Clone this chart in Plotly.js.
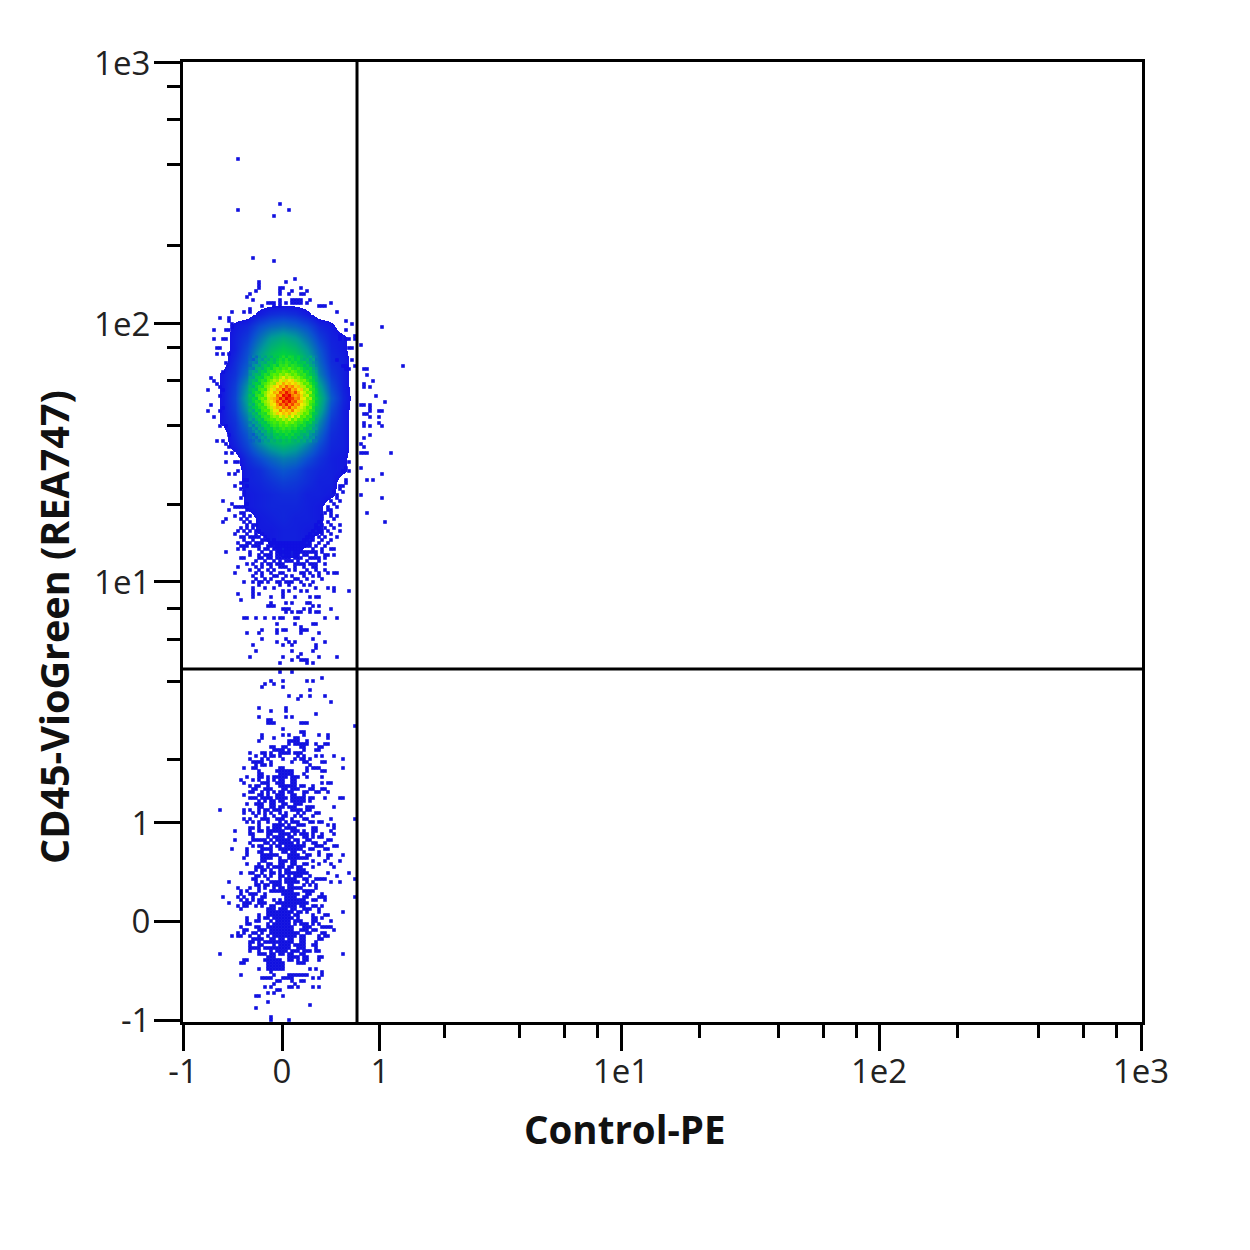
<!DOCTYPE html>
<html><head><meta charset="utf-8">
<script src="https://cdn.plot.ly/plotly-3.0.1.min.js"></script>
<style>html,body{margin:0;padding:0;background:#fff}</style></head>
<body><div id="plot" style="width:1250px;height:1250px"></div>
<script>
// Axis unit: instrument display channel. Tick tables map channels to labels.
const xTickChannels=[0.67,33.67,66.33,146.67,232.67,320];
const xTickLabels=['-1','0','1','1e1','1e2','1e3'];
const xMinorChannels=[87.67,112.67,127.67,138.67,172.67,199,214,225,258.67,285.67,300.67,311.67];
const yTickChannels=[1,34,66.67,147,233,320];
const yTickLabels=['-1','0','1','1e1','1e2','1e3'];
const yMinorChannels=[87.7,113.7,127.7,138.3,172.7,199.3,214.3,225,259,286,301,312];
const xGateChannel=58.67, yGateChannel=118;
const xTitle='Control-PE', yTitle='CD45-VioGreen (REA747)';

// Coarse density of the main population, top row first
const densityX=[10,14,18,22,26,30,34,38,42,46,50,54,58];
const densityY=[244.33,240.33,236.33,232.33,228.33,224.33,220.33,216.33,212.33,208.33,204.33,200.33,196.33,192.33,188.33,184.33,180.33,176.33,172.33,168.33,164.33,160.33,156.33,152.33];
const densityRows=[
[0,0,0,0,0,0,0,0,0,0,0,0,0],
[0,0,0,0,0,0,0,0,0,0,0,0,0],
[0,0,0,0,3,6,7,6,3,0,0,0,0],
[0,0,3,5,11,15,17,15,11,5,3,0,0],
[0,0,4,8,17,26,30,26,18,9,4,3,0],
[0,0,4,11,23,33,38,34,25,13,5,3,0],
[0,0,6,13,29,40,46,42,31,16,6,4,0],
[0,3,7,17,36,52,60,54,40,20,8,4,0],
[0,3,9,24,46,64,82,72,52,28,11,4,0],
[0,3,10,28,54,72,96,82,58,34,14,5,0],
[0,3,9,24,48,64,84,72,52,30,11,4,0],
[0,3,7,18,38,52,62,56,42,22,8,4,0],
[0,0,6,13,28,40,46,42,30,16,6,4,0],
[0,0,4,10,19,27,32,28,20,11,5,4,0],
[0,0,0,6,11,16,20,18,12,7,4,3,0],
[0,0,0,4,6,10,13,11,7,5,4,3,0],
[0,0,0,4,5,7,9,8,6,4,4,0,0],
[0,0,0,3,4,5,6,6,4,4,3,0,0],
[0,0,0,3,4,5,5,5,4,3,0,0,0],
[0,0,0,0,3,4,5,4,4,3,0,0,0],
[0,0,0,0,3,3,4,4,3,3,0,0,0],
[0,0,0,0,0,3,4,4,3,0,0,0,0],
[0,0,0,0,0,0,3,3,0,0,0,0,0],
[0,0,0,0,0,0,0,0,0,0,0,0,0]];

// Fine per-channel density of the bright core, top row first
const coreX=[23,24,25,26,27,28,29,30,31,32,33,34,35,36,37,38,39,40,41,42,43,44,45];
const coreY=[222,221,220,219,218,217,216,215,214,213,212,211,210,209,208,207,206,205,204,203,202,201,200,199,198,197,196,195,194];
const coreRows=[
[15,20,17,24,29,26,33,31,38,36,41,45,39,44,42,37,40,34,31,28,30,23,19],
[16,14,21,27,24,32,30,37,34,40,44,41,46,40,43,38,41,33,30,32,25,27,18],
[18,21,19,28,32,29,36,39,35,42,46,43,48,45,41,44,39,36,38,31,28,23,20],
[17,23,27,25,33,37,34,41,45,40,49,47,51,44,48,45,42,40,34,37,30,27,21],
[20,19,29,33,30,38,43,40,48,51,47,53,50,56,49,46,50,44,39,35,38,29,24],
[24,28,26,34,39,36,45,49,46,54,52,58,55,51,57,53,47,49,41,43,36,32,26],
[23,30,34,32,41,46,43,52,56,53,60,57,63,59,54,58,51,47,50,42,38,34,29],
[27,26,36,40,38,48,53,50,59,57,63,68,61,65,62,57,60,53,48,44,47,36,32],
[29,33,31,42,47,44,55,59,64,61,72,66,76,70,74,64,61,57,59,49,43,40,31],
[28,36,40,37,49,53,58,63,60,74,68,82,73,78,71,76,67,62,55,58,48,41,37],
[32,30,41,47,44,57,61,66,75,70,84,77,90,81,86,74,78,64,63,53,56,44,35],
[34,38,36,49,53,50,63,72,67,82,78,94,86,92,79,85,72,76,61,64,51,47,39],
[31,40,45,42,55,60,66,70,81,76,92,87,98,90,84,93,80,70,66,58,61,45,41],
[36,33,47,51,49,61,68,74,72,88,83,99,94,100,88,82,86,74,63,67,53,49,38],
[34,41,39,53,58,55,66,76,80,86,97,90,100,96,94,86,88,72,69,59,63,47,42],
[32,39,46,43,56,61,65,72,78,90,84,98,92,99,89,92,78,76,65,61,55,50,37],
[35,31,43,49,47,59,63,73,70,84,94,88,97,86,93,82,86,70,67,62,52,46,40],
[30,37,40,46,52,50,61,66,74,80,76,90,84,94,80,85,74,68,63,55,58,43,35],
[32,28,41,38,50,55,53,63,72,68,86,74,82,76,88,72,75,64,61,57,49,45,33],
[27,34,31,43,47,45,57,61,66,76,70,78,73,80,68,74,64,62,55,58,46,39,36],
[25,29,36,34,45,49,47,58,62,59,68,64,74,62,70,60,66,54,57,48,50,37,31],
[26,23,32,38,35,47,50,55,53,60,57,64,59,66,56,62,53,55,47,50,41,39,28],
[21,27,25,33,39,36,45,49,53,50,56,53,60,55,58,52,48,50,44,40,42,32,29],
[23,19,29,27,35,40,38,46,50,47,54,50,55,51,48,52,45,42,45,37,34,31,24],
[18,23,21,30,28,36,40,37,45,43,47,51,46,49,45,47,40,43,37,34,36,27,25],
[17,20,25,22,31,29,37,34,41,45,42,46,43,45,40,42,39,35,37,31,28,29,21],
[16,14,21,24,22,30,33,31,38,36,41,39,44,40,43,36,38,32,30,33,25,22,20],
[15,18,16,22,26,24,31,29,35,39,36,40,37,41,35,38,32,34,27,29,23,24,17],
[13,15,19,17,23,27,25,32,30,34,32,36,34,37,33,31,34,28,30,24,26,19,18]];

// Individually visible events: [y channel, [x channels]]
const eventRows=[
[1,[36,30]],[2,[30]],[5,[25]],[6,[43]],[7,[29]],[9,[25,26,34]],[10,[29,31]],[11,[32,33]],
[12,[28,30,36,37,39,44,46]],[13,[31,38]],[14,[32,33,37,40,41]],[15,[27,28,29,30,34,35,36,37,44,46]],
[16,[20,31,36,37,38,39,40,41,42,47]],[17,[30,47]],[18,[26,29,30,31,32,33,34,43,45]],[19,[29,30,31,32,33,34]],
[20,[20,21,29,30,31,32,33,34,39,40,41]],[21,[21,22,28,29,30,31,32,33,36,37,39,41,42,46]],
[22,[29,30,31,36,37,38,39,41,42,46,47]],[23,[13,26,27,28,30,31,33,34,36,37,40,41,54]],
[24,[23,26,30,32,33,34,35,37,38,39,41,42,43,45,46]],[25,[23,24,25,26,28,29,30,31,32,33,34,35,36,39,40,41,45]],
[26,[23,26,27,31,33,34,35,36,38,39,40,41,44,45]],[27,[23,24,26,28,29,30,31,32,33,34,35,36,37,40,41,45]],
[28,[24,25,26,27,30,31,33,34,36,37,40,41,46,47]],[29,[17,19,20,23,26,29,31,32,33,34,35,36,37,38,40,41,46,48,49]],
[30,[19,21,24,25,27,30,31,32,33,34,35,36,37,38,39,42,43,47,48]],[31,[21,22,26,27,28,30,31,32,33,34,35,36,37,40,41,42,44,45,51]],
[32,[20,25,26,29,30,31,32,33,34,35,36,37,41,42,43,47,48,49,50]],[33,[22,23,29,31,32,33,34,35,36,38,40,41,42,44,46]],
[34,[22,25,26,30,32,33,34,35,36,38,39,40,44,45,50]],[35,[22,26,28,29,31,32,33,34,35,36,37,39,44,45,47]],
[36,[26,29,30,31,32,33,34,35,36,38,39,44,48,49]],[37,[29,30,31,32,33,34,35,36,37,39,40,42,46,54]],
[38,[20,29,30,31,33,34,35,37,38,41,42,43,46]],[39,[19,21,22,25,27,30,31,34,35,36,37,38,40,41,44,45,47]],
[40,[16,21,22,23,26,27,28,32,33,34,35,36,37,38,39,40,41,42]],[41,[20,22,24,26,27,31,33,35,36,37,38,39,40,41,44,45,48]],
[42,[14,19,21,24,27,28,35,36,37,38,41,42,46,47,48,58]],[43,[20,23,24,25,28,34,35,36,37,38,39,42,43,47]],
[44,[20,22,26,30,31,32,33,34,35,36,37,41,42,43,44]],[45,[19,23,26,28,31,33,34,36,37,38,39,40,45]],
[46,[25,26,28,29,31,32,33,36,37,41,43,45]],[47,[16,25,27,30,31,32,33,35,36,37,38,39,42,44,50,53]],
[48,[24,25,29,33,35,36,37,38,41,42,45,46,47,48,58]],[49,[25,26,28,30,33,34,36,38,39,40,43,52]],
[50,[20,23,24,27,30,31,33,35,36,37,38,39,40,41,42,49,56]],[51,[25,27,28,30,33,35,36,39,40,41]],
[52,[25,26,27,29,31,32,33,34,36,37,39,40,44,51]],[53,[22,26,29,30,33,34,37,38,41,42,46,50]],[54,[27,28,33,34,35,37,38,44,48,53]],
[55,[21,27,28,29,30,33,36,37,38,39,40,41,42,49]],[56,[22,27,28,29,30,31,32,36,37,38,39,42,43,46,49,50,54]],
[57,[22,26,27,30,34,35,37,38,41,46]],[58,[17,22,27,28,29,30,33,34,35,36,37,38,39,40,43,44,48,49]],
[59,[24,26,27,30,32,33,35,36,37,38,39,40,41,45,46,47,51,52]],[60,[23,28,29,31,33,34,35,36,37,39,41,44,45,48]],
[61,[18,24,25,26,27,28,30,32,33,34,35,36,38,39,42,43,49,50]],[62,[24,29,31,32,33,34,36,37,41,42,44,46,47]],
[63,[23,24,29,30,33,34,35,36,38,40,41,42,44,47,51]],[64,[18,23,26,27,29,30,31,32,33,34,37,38,39,41,44,45,50]],
[65,[23,24,26,29,31,32,33,35,36,37,38,44,45,51]],[66,[26,31,32,33,34,36,39,40,41,49,51]],
[67,[22,24,26,29,33,35,37,38,39,43,44,46,47]],[68,[21,23,27,28,29,32,33,34,37,41,42,50,58]],[69,[25,28,31,34,35,38,40,44]],
[70,[21,24,26,28,30,33,35,39,41,45,46]],[71,[13,21,23,26,28,29,31,32,33,37,38,39,40,42,43]],
[72,[26,27,30,31,33,34,36,37,38,42,43,44,51]],[73,[22,25,26,27,30,31,34,35,38,39,40]],
[74,[26,28,30,31,33,34,37,38,39,40,41,43]],[75,[23,24,25,27,28,29,30,32,33,34,35,37,38,39,40,41,43,44,48,53,54]],
[76,[21,26,27,29,32,33,34,37,38,41]],[77,[23,24,27,29,31,33,34,36,37,41,42,45,46,49]],
[78,[24,25,28,29,30,34,35,37,38,39,43,44,47,48]],[79,[23,25,26,29,33,34,35,36,37,38,40,41,44]],
[80,[21,27,28,29,32,33,34,37,38,47,49,50]],[81,[20,24,26,29,31,33,34,37,38]],
[82,[22,26,27,29,31,32,33,34,35,37,38,39,42,47]],[83,[26,27,33,34,35,36,37,41]],
[84,[26,32,33,34,35,36,37,42,47,48]],[85,[21,24,25,33,34,42,44,45,46,54]],[86,[25,27,28,30,43]],
[87,[24,25,26,27,30,37,41,42,47,48]],[88,[23,27,29,34,38,40,41,43,54]],[89,[25,28,30,31,33,39,41,45,47,51]],
[90,[23,27,28,30,33,34,35,36,38,39,40]],[91,[31,32,33,34,36,41,45,46]],[92,[30,31,34,35,40,41,46,47]],
[93,[36,38,39,40,41,42,45,48,49]],[94,[26,36,37,38,39,42]],[95,[27,31,38,39,49]],[96,[27,34,36,41,46,49]],
[97,[40,41]],[98,[34]],[99,[58]],[100,[29,30,31,40,41,42]],[101,[29,30]],[102,[26,35,37]],[103,[45]],
[104,[30,35]],[105,[26,35]],[107,[50]],[108,[39]],[109,[36,40,43,48]],[111,[43]],[112,[27,34]],
[113,[28,31]],[114,[30,34,42,44]],[115,[47]],[117,[33,37]],
[120,[33,42,44]],[121,[37,40,41,42]],[122,[23,34,39,46,52]],[123,[40]],[124,[25,37,44]],[125,[45]],
[126,[24,34,37,45]],[127,[32,36,38,48]],[128,[27,35,44]],[130,[22,26,32,40,46]],[131,[27,32,34,35,40,41,42]],
[132,[40]],[133,[32,38,44,45]],[135,[21,22,25,28,31,33,34,38,39,48,52]],[137,[35,37,39,40,43,45,46]],
[138,[34,35,36,41,43,50]],[139,[29,30,31,44,46]],[140,[30,35,37,42,43]],[141,[20]],[142,[24,30,34,38,43,45,46]],
[143,[19,24,26,34]],[144,[24,34,36,40,42,51,56]],[145,[24,28,31,38,45,49,51]],[146,[26,33,36,41,43]],
[147,[21,24,26,27,29,32,33,35,36,37,40,44]],[148,[25,28,30,34,38,39,42,47]],[149,[24,27,31,32,35,37,41,44,46]],
[150,[18,25,27,30,33,34,40,41,43,46,49,51,52]],[151,[23,26,29,31,36,38,42,45,48]],
[152,[19,25,27,30,33,34,35,38,41,44,45]],[153,[22,24,27,29,30,32,33,34,38,39,40,41,43,44,45,48]],
[154,[25,28,31,33,35,36,37,39,42,46]],[155,[20,21,26,27,29,30,32,33,34,35,36,38,39,40,43,44,45,46,48]],
[156,[23,26,28,29,30,32,33,35,36,38,39,41,42,45,48,49,51]],
[157,[15,23,27,30,32,33,34,35,36,38,39,40,41,42,43,44,45,47]],[158,[19,21,26,28,29,31,32,33,35,36,37,38,39,40,44,47,50,51]],
[159,[20,21,22,24,25,26,29,30,32,33,34,35,36,37,38,39,40,41,42,43,45,48]],[160,[19,22,23,25,26,27,30,31,32,33,34,35,36,37,38,39,40,41,43,46,49]],
[161,[21,24,27,28,29,31,41,42,44,47,50]],[162,[20,21,23,24,25,26,28,42,43,44,46,48,52]],[163,[18,22,25,27,43,45,47,50]],
[164,[19,21,23,25,26,44,46,47,49,53]],[165,[20,22,24,45,46,48,51]],[166,[22,24,25,45,47,50,53]],
[167,[14,68,21,23,46,49]],[168,[15,20,22,47,51]],[169,[18,21,23,47,50,52]],[170,[20,21,62,48,50]],[171,[16,22,50,49]],[172,[18,19,20,21,49,52]],[173,[17,22,51]],
[174,[14,50,53]],[175,[67,20,52]],[176,[21,60,52]],[177,[21,51,54]],[178,[20,53]],[179,[18,22,53,54]],[180,[20,55]],[181,[21,22,62,64,55]],
[183,[16,18,67]],[184,[19,54,56]],[185,[60,55]],[187,[15,18,19,56]],[190,[15,17,60,61,62,70]],[192,[16,61]],
[193,[15,60]],[194,[12,14]],[195,[61]],[196,[16,63]],[199,[13,15,61,63,67]],[200,[61,66]],[202,[11,63,66]],
[203,[61,62]],[204,[9,13,63,66,67]],[205,[14,63]],[206,[10,60,61,63]],[207,[68]],[209,[13,65]],
[211,[9,14]],[212,[13,61,63]],[213,[12,61]],[214,[11,64]],[215,[10]],[216,[62]],[217,[14]],[218,[55,56,61,62]],
[219,[54,55,58,74]],[220,[15]],[221,[52,57]],[223,[12,14,16]],[225,[12,13,56,57]],[226,[60]],
[228,[11,14,15,53,55,56,58]],[229,[53,58]],[231,[11,15,16,55]],[232,[17,67]],[233,[17,57]],[234,[16,55]],
[235,[13,16]],[237,[17,21,23,52]],[238,[23]],[239,[27,31,33,46,47,48]],[240,[29,30,31,33,35,37,38,39,40,42,50]],
[241,[24,33,37,38,39,40,43]],[242,[22]],[243,[23,33,36,40,41]],[244,[25,33,37,42]],[245,[26,33,34,40]],
[246,[26]],[247,[26,35]],[248,[38]],[254,[31]],[255,[24]],[269,[31]],[271,[19,36]],[273,[33]],[288,[19]]];

const densityZ=densityRows.slice().reverse();
const densityYAsc=densityY.slice().reverse();
const coreZ=coreRows.slice().reverse();
const coreYAsc=coreY.slice().reverse();
const evX=[],evY=[];
eventRows.forEach(r=>r[1].forEach(x=>{evX.push(x);evY.push(r[0]);}));

const pseudoColor=[[0,'#ffffff'],[0.02,'#ffffff'],[0.0201,'#1414e0'],[0.12,'#0a50d0'],[0.25,'#009a96'],[0.40,'#00d040'],[0.55,'#50f000'],[0.70,'#f0f000'],[0.85,'#ff9000'],[1,'#e80000']];
const axisBase={linecolor:'#000',linewidth:3,mirror:true,showgrid:false,zeroline:false,
 ticks:'outside',tickmode:'array',ticklen:26,tickwidth:3,tickcolor:'#000',
 tickfont:{family:'Open Sans',size:33,color:'#222'}};
const minorBase={tickmode:'array',ticks:'outside',ticklen:13,tickwidth:3,tickcolor:'#000'};
const data=[
 {type:'heatmap',x:densityX,y:densityYAsc,z:densityZ,zsmooth:'best',zmin:0,zmax:100,showscale:false,hoverinfo:'skip',colorscale:pseudoColor},
 {type:'heatmap',x:coreX,y:coreYAsc,z:coreZ,zsmooth:false,zmin:0,zmax:100,showscale:false,hoverinfo:'skip',colorscale:pseudoColor},
 {type:'scatter',mode:'markers',x:evX,y:evY,hoverinfo:'skip',marker:{symbol:'square',size:3.6,color:'#1010e0',line:{width:0}}}
];
const layout={width:1250,height:1250,showlegend:false,paper_bgcolor:'#fff',plot_bgcolor:'#fff',
 margin:{l:183,r:108,t:62,b:228,pad:0},
 xaxis:Object.assign({},axisBase,{range:[0.667,320.33],tickvals:xTickChannels,ticktext:xTickLabels,ticklabelstandoff:-8,
  minor:Object.assign({},minorBase,{tickvals:xMinorChannels})}),
 yaxis:Object.assign({},axisBase,{range:[0.333,320.33],tickvals:yTickChannels,ticktext:yTickLabels,ticklabelstandoff:-3,
  minor:Object.assign({},minorBase,{tickvals:yMinorChannels})}),
 annotations:[
  {xref:'paper',yref:'paper',x:0.4609,y:-0.1115,showarrow:false,xanchor:'center',yanchor:'middle',text:xTitle,
   font:{family:'Open Sans',size:38.5,weight:700,color:'#111'}},
  {xref:'paper',yref:'paper',x:-0.1345,y:0.4115,showarrow:false,xanchor:'center',yanchor:'middle',textangle:-90,text:yTitle,
   font:{family:'Open Sans',size:39.5,weight:700,color:'#111'}}
 ],
 shapes:[
  {type:'line',xref:'x',yref:'paper',x0:xGateChannel,x1:xGateChannel,y0:0,y1:1,line:{color:'#000',width:3}},
  {type:'line',xref:'paper',yref:'y',x0:0,x1:1,y0:yGateChannel,y1:yGateChannel,line:{color:'#000',width:3}}
 ]};
Plotly.newPlot('plot',data,layout,{displayModeBar:false,staticPlot:true});
</script></body></html>
